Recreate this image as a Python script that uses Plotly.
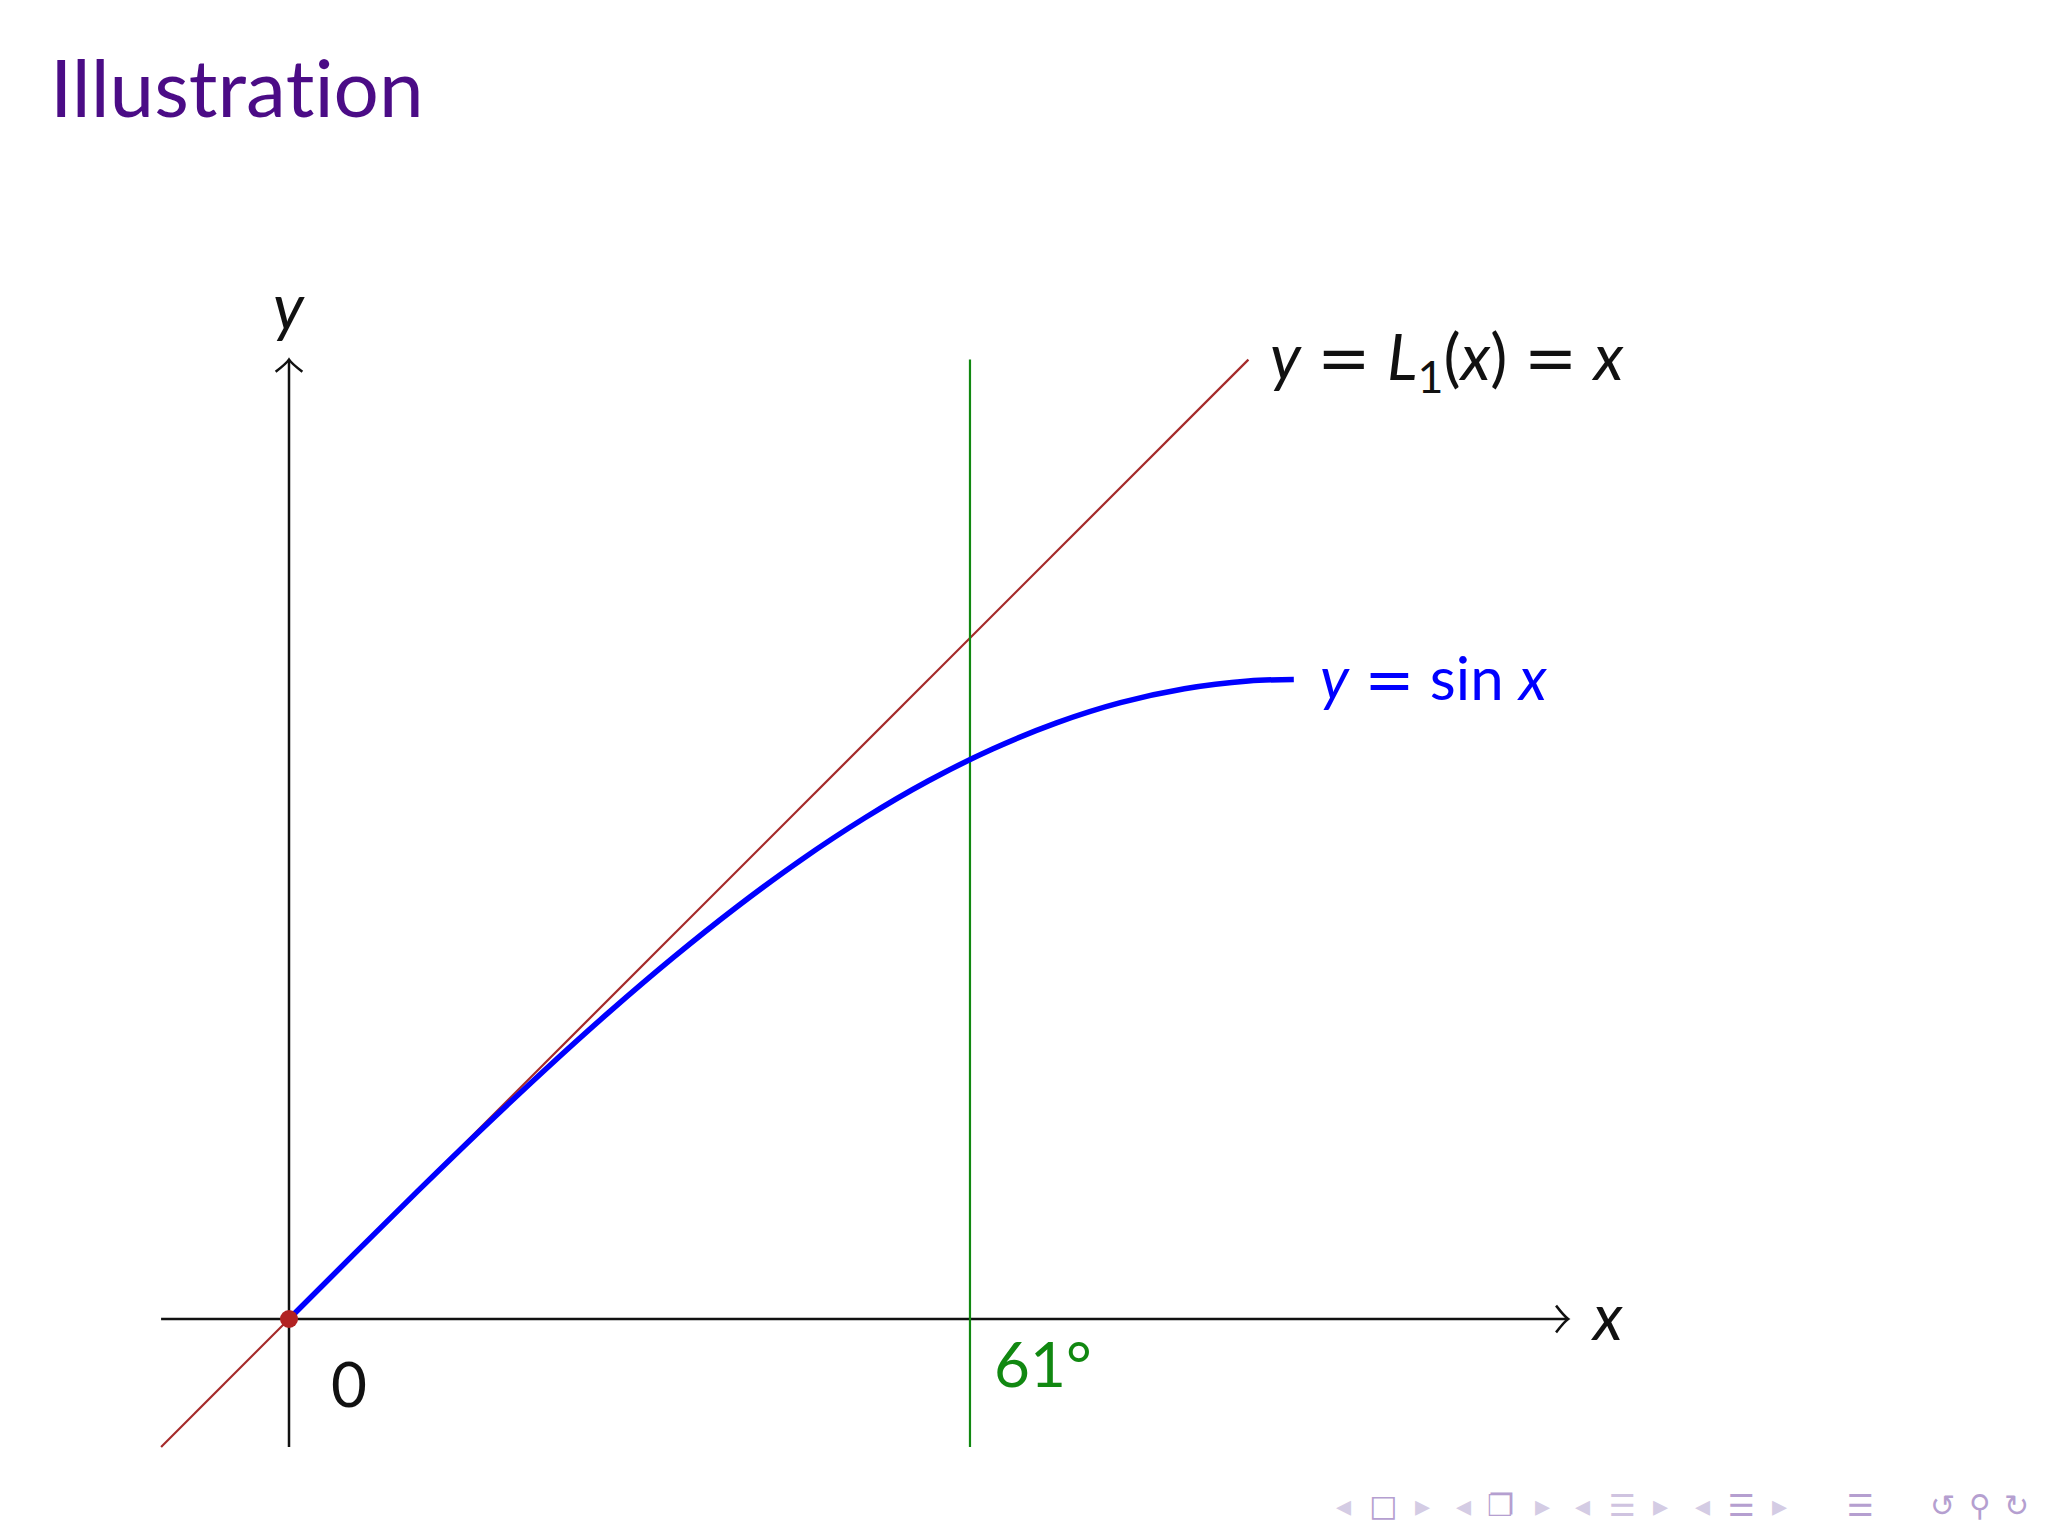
import plotly.graph_objects as go

# data
sin_x = [0, 0.1, 0.2, 0.3, 0.4, 0.5, 0.6, 0.7, 0.8, 0.9, 1.0, 1.1, 1.2, 1.3, 1.4, 1.5, 1.571]
sin_y = [0, 0.0998, 0.1987, 0.2955, 0.3894, 0.4794, 0.5646, 0.6442, 0.7174, 0.7833,
         0.8415, 0.8912, 0.9320, 0.9636, 0.9854, 0.9975, 1.0]
tangent_x = [-0.2, 1.5]
tangent_y = [-0.2, 1.5]
angle_x = [1.0647, 1.0647]          # 61 degrees in radians
angle_y = [-0.2, 1.5]
xaxis_x = [-0.2, 2.0]
yaxis_y = [-0.2, 1.5]

W, H = 2048, 1536
PAD = 8                             # page body margin
ox, oy, unit = 289 - PAD, 1319 - PAD, 639.6   # origin in pixels, pixels per unit

FONT = "Lato"
BLACK = "#111111"
RED = "#a52a2a"
BLUE = "#0000ff"
GREEN = "#118811"
EQ = '<span style="font-family:DejaVu Sans">=</span>'

fig = go.Figure()

# axes
fig.add_trace(go.Scatter(x=xaxis_x, y=[0, 0], mode="lines", line=dict(color=BLACK, width=2.5)))
fig.add_trace(go.Scatter(x=[0, 0], y=yaxis_y, mode="lines", line=dict(color=BLACK, width=2.5)))

a = 0.019
xe, ye = xaxis_x[1], yaxis_y[1]
fig.add_shape(type="path", path=f"M {xe - a} {a * 1.1} Q {xe - a * 0.3} {a * 0.2} {xe} 0 Q {xe - a * 0.3} {-a * 0.2} {xe - a} {-a * 1.1}",
              line=dict(color=BLACK, width=2.5))
fig.add_shape(type="path", path=f"M {-a * 1.1} {ye - a} Q {-a * 0.2} {ye - a * 0.3} 0 {ye} Q {a * 0.2} {ye - a * 0.3} {a * 1.1} {ye - a}",
              line=dict(color=BLACK, width=2.5))

fig.add_trace(go.Scatter(x=tangent_x, y=tangent_y, mode="lines", line=dict(color=RED, width=2.2)))
fig.add_trace(go.Scatter(x=angle_x, y=angle_y, mode="lines", line=dict(color=GREEN, width=2.2)))
fig.add_trace(go.Scatter(x=sin_x, y=sin_y, mode="lines", line=dict(color=BLUE, width=5.5, shape="spline")))
fig.add_trace(go.Scatter(x=[0], y=[0], mode="markers", marker=dict(color="#b22222", size=18)))


def label(x, y, text, color=BLACK, size=64, xanchor="center", yanchor="middle", dx=0, dy=0):
    fig.add_annotation(x=x, y=y, xref="x", yref="y", text=text, showarrow=False,
                       xanchor=xanchor, yanchor=yanchor, xshift=dx, yshift=dy,
                       font=dict(family=FONT, size=size, color=color))


label(tangent_x[1], tangent_y[1],
      f"<i>y</i> {EQ} <i>L</i><sub>1</sub>(<i>x</i>) {EQ} <i>x</i>", xanchor="left", dx=20)
label(sin_x[-1], sin_y[-1], f"<i>y</i> {EQ} sin <i>x</i>", color=BLUE, size=60,
      xanchor="left", dx=24, dy=2)
label(0, yaxis_y[1], "<i>y</i>", dy=54)
label(xaxis_x[1], 0, "<i>x</i>", xanchor="left", dx=20, dy=4)
label(0, 0, "0", size=62, dx=60, dy=-64)
label(angle_x[0], 0, "61°", color=GREEN, size=62, xanchor="left", dx=22, dy=-44)

# title (separate span so the font does not join "ti")
fig.add_annotation(x=40 / W, y=1 - 78 / H, xref="paper", yref="paper",
                   text='Illustra<span style="font-variant-ligatures:none;color:#4b0c86">t</span>ion',
                   showarrow=False, xanchor="left", yanchor="middle",
                   font=dict(family=FONT, size=80, color="#4b0c86"))

# beamer navigation symbols
nav = [("◂", 1343, "#d4cce4"), ("□", 1383, "#b59fd0"), ("▸", 1422, "#d4cce4"),
       ("◂", 1463, "#d4cce4"), ("❐", 1500, "#b59fd0"), ("▸", 1542, "#d4cce4"),
       ("◂", 1582, "#d4cce4"), ("☰", 1622, "#cfc3e0"), ("▸", 1660, "#d4cce4"),
       ("◂", 1702, "#d4cce4"), ("☰", 1741, "#b59fd0"), ("▸", 1779, "#d4cce4"),
       ("☰", 1860, "#b59fd0"), ("↺", 1942, "#b59fd0"), ("⚲", 1980, "#b59fd0"),
       ("↻", 2016, "#b59fd0")]
for ch, px, col in nav:
    fig.add_annotation(x=(px - PAD) / W, y=1 - 1497 / H, xref="paper", yref="paper", text=ch,
                       showarrow=False, xanchor="center", yanchor="middle",
                       font=dict(family="DejaVu Sans", size=30, color=col))

fig.update_xaxes(range=[-ox / unit, (W - ox) / unit], visible=False, domain=[0, 1])
fig.update_yaxes(range=[-(H - oy) / unit, oy / unit], visible=False, domain=[0, 1])
fig.update_layout(width=W, height=H, margin=dict(l=0, r=0, t=0, b=0),
                  plot_bgcolor="white", paper_bgcolor="white",
                  showlegend=False, hovermode=False)

fig.write_html("out.html", config={"displayModeBar": False})
